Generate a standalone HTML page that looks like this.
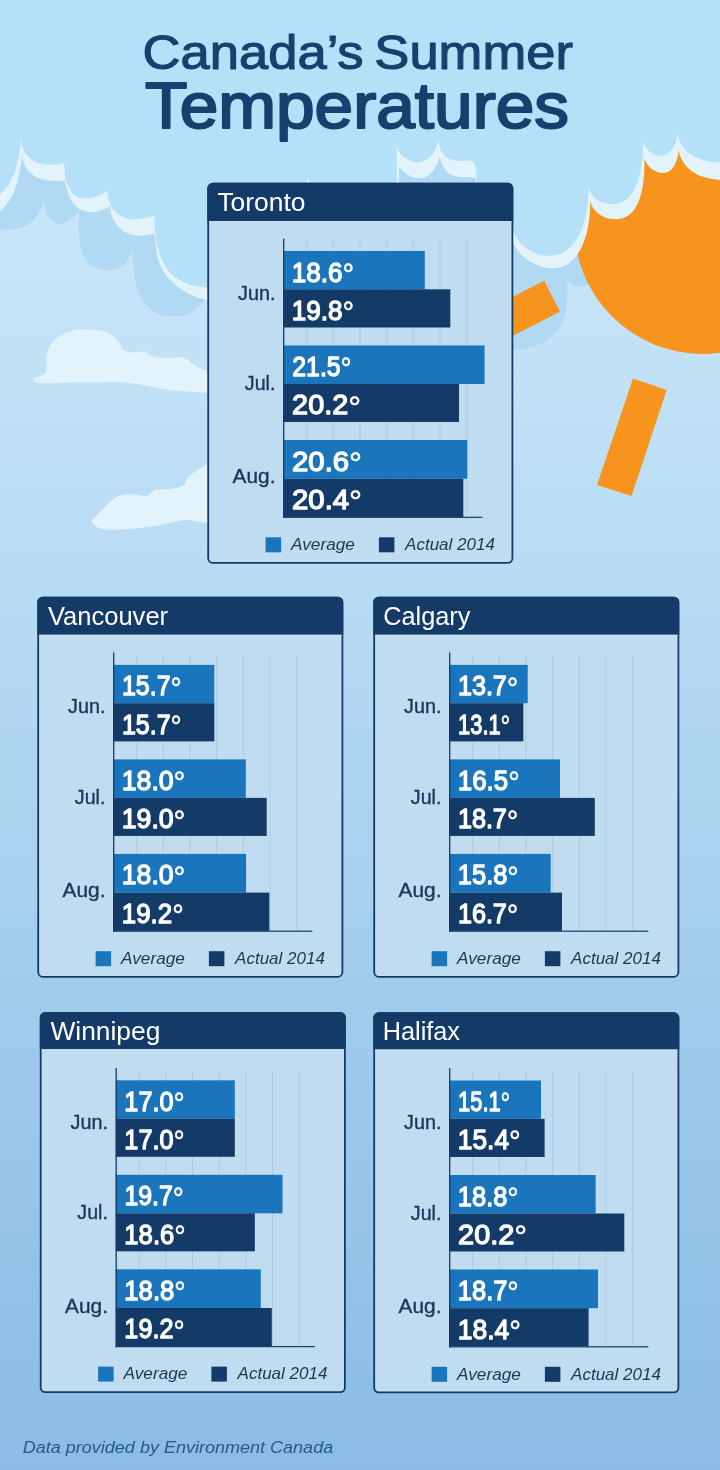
<!DOCTYPE html>
<html lang="en"><head><meta charset="utf-8"><title>Canada’s Summer Temperatures</title>
<style>html,body{margin:0;padding:0;background:#8abce5}svg{display:block}</style></head>
<body>
<svg width="720" height="1470" viewBox="0 0 720 1470">
<defs><linearGradient id="sky" x1="0" y1="0" x2="0" y2="1"><stop offset="0" stop-color="#c9e6f9"/><stop offset="0.17" stop-color="#c7e5f9"/><stop offset="0.38" stop-color="#b9dcf4"/><stop offset="0.7" stop-color="#9fcbec"/><stop offset="1" stop-color="#8abce5"/></linearGradient></defs>
<rect width="720" height="1470" fill="url(#sky)"/>
<path d="M0,0L0,230C2.5,229.8 10.4,229.6 15.0,228.8C19.6,227.9 23.8,227.3 27.5,225.0C31.2,222.7 34.8,218.8 37.5,215.0C40.2,211.2 42.7,204.6 43.8,202.5C44.4,204.6 45.2,211.5 47.5,215.0C49.8,218.5 53.8,222.9 57.5,223.8C61.2,224.6 66.5,222.1 70.0,220.0C73.5,217.9 77.3,212.7 78.8,211.2C79.0,216.5 78.5,234.0 80.0,242.5C81.5,251.0 83.3,257.9 87.5,262.5C91.7,267.1 99.2,269.4 105.0,270.0C110.8,270.6 118.1,269.2 122.5,266.2C126.9,263.2 130.0,254.4 131.5,252.0C131.8,254.4 132.4,260.9 133.3,266.7C134.2,272.5 134.8,280.6 136.7,286.7C138.6,292.8 141.7,298.9 145.0,303.3C148.3,307.7 152.2,310.8 156.7,313.0C161.2,315.2 166.5,316.4 172.0,316.5C177.5,316.6 184.1,316.2 189.6,313.5C195.1,310.8 200.8,304.8 205.0,300.0C209.2,295.2 213.3,287.5 215.0,285.0L500,285L500,351C502.2,350.8 509.4,350.3 513.0,350.0C516.6,349.7 517.5,350.0 521.7,349.2C525.9,348.4 533.0,347.4 538.3,345.0C543.6,342.6 549.1,339.2 553.3,335.0C557.5,330.8 561.0,325.3 563.3,320.0C565.6,314.7 566.3,309.8 567.0,303.3C567.7,296.8 567.4,284.6 567.5,280.8C568.2,281.5 569.9,284.0 571.7,285.0C573.5,286.0 576.1,286.6 578.3,286.7C580.5,286.8 581.4,287.2 585.0,285.8C588.6,284.4 597.5,279.3 600.0,278.0L720,278L720,0Z" fill="#b1d9f3"/>
<path d="M33.6,378.0C35.6,377.0 43.8,375.7 45.9,371.9C48.0,368.1 45.0,360.4 46.5,355.0C48.0,349.6 50.5,343.9 55.0,339.8C59.5,335.7 66.8,332.3 73.4,330.6C80.0,328.9 88.7,329.2 94.8,329.7C100.9,330.2 105.9,331.4 110.0,333.6C114.1,335.8 117.0,340.0 119.3,342.8C121.6,345.6 121.4,348.9 123.9,350.5C126.5,352.1 131.0,352.5 134.6,352.6C138.2,352.8 142.2,350.7 145.3,351.4C148.4,352.1 149.3,355.5 152.9,356.6C156.5,357.7 161.6,358.0 166.7,358.1C171.8,358.2 178.7,356.2 183.5,357.5C188.3,358.8 190.4,362.6 195.7,365.7C200.9,368.8 211.8,371.8 215.0,376.0C218.2,380.2 219.2,388.5 215.0,391.1C210.8,393.7 197.9,392.0 189.6,391.7C181.3,391.4 173.8,390.6 165.1,389.3C156.4,388.0 145.8,385.3 137.6,384.1C129.4,382.9 126.4,382.2 116.2,382.0C106.0,381.8 88.2,382.4 76.5,382.6C64.8,382.8 52.8,383.3 45.9,383.2C39.0,383.1 37.2,382.9 35.2,382.0C33.2,381.1 33.9,378.7 33.6,378.0Z" fill="#e3f3fc"/>
<path d="M91.1,521.7C92.7,519.9 96.7,515.1 100.9,511.0C105.1,506.9 111.1,500.0 116.2,497.2C121.3,494.4 126.4,494.4 131.5,494.2C136.6,493.9 142.7,496.5 146.8,495.7C150.9,494.9 151.9,490.7 156.0,489.6C160.1,488.5 166.7,489.8 171.3,489.0C175.9,488.2 180.2,487.4 183.5,485.0C186.8,482.6 185.8,477.5 191.1,474.3C196.3,471.1 211.0,458.6 215.0,466.0C219.0,473.4 220.2,509.7 215.0,518.7C209.8,527.7 193.8,518.9 183.5,520.2C173.2,521.5 163.1,524.8 152.9,526.3C142.7,527.8 131.0,529.0 122.3,529.4C113.6,529.8 106.1,530.0 100.9,528.7C95.7,527.4 92.7,522.9 91.1,521.7Z" fill="#e3f3fc"/>
<circle cx="702.6" cy="225.6" r="128.3" fill="#f7941e"/>
<polygon points="544.2,280.8 560,311.7 500,342.2 500,303.3" fill="#f7941e"/>
<polygon points="633,378.6 666.7,390 631.5,496 597,485" fill="#f7941e"/>
<path d="M0,0L0,211.2C10,203 19,188 22,155C24,174 38,183 65.3,180.6C68,206 84,221.5 110,206.25C112,228 128,241 154.6,233.5L156.25,248.75C157.5,274 180,297 215,301.5L480,300L480,215L505,228C510,237 512,241 512.8,242.5C520,257 535,268 553,268.3C574,268 590,246 590.3,201C592,211 602,219 615,219.2C633,219.5 645,203 644.5,158.3C646.5,166 654,173 663.3,173C672,173 677,164 678.7,150.8C682,167 696,179 720,179.7L720,0Z" fill="#e3f3fc"/>
<path d="M0,0L0,194C10,186 19,170 21,136.7C21.5,160 38,168 64.3,163.3C65,197.5 80,206.5 107.5,191.25C108.5,214 126,226 154.4,215.6C155,275 178,287 215,288L480,288L480,200L505,215C510,225 512,230 512.8,231.7C520,246 534,256 550,255.8C572,255.5 588,232 588.8,186.7C590,197 600,204 612,204.2C630,204.5 643,186 643.3,140.8C645,149 652,156 660,155.8C670,155.5 676,147 677.5,133.3C680,150 695,162 720,162.5L720,0Z" fill="#b4e0f8"/>
<path d="M396.7,190L396.7,145C397.2,146.4 398.1,150.8 400.0,153.3C401.9,155.8 405.2,158.5 408.3,160.0C411.4,161.5 415.0,162.8 418.3,162.5C421.6,162.2 425.5,160.4 428.3,158.3C431.1,156.2 433.3,152.9 435.0,150.0C436.7,147.1 437.8,142.3 438.3,140.8C438.7,142.3 439.4,147.2 440.8,150.0C442.2,152.8 444.1,155.7 446.7,157.5C449.3,159.3 452.8,160.2 456.7,160.8C460.6,161.4 466.9,160.1 470.0,160.8C473.1,161.5 473.9,162.6 475.0,165.0C476.1,167.4 476.0,170.8 476.3,175.0C476.6,179.2 476.6,187.5 476.7,190.0Z" fill="#e3f3fc"/>
<path d="M399,190L399,166.7C400.6,168.1 404.8,173.1 408.3,175.0C411.8,176.9 416.4,178.4 420.0,178.3C423.6,178.2 427.2,176.4 430.0,174.2C432.8,172.0 435.1,167.9 436.7,165.0C438.3,162.1 439.2,158.1 439.7,156.7C440.3,158.4 441.6,163.8 443.3,166.7C445.0,169.6 447.2,172.5 450.0,174.2C452.8,175.9 456.1,176.4 460.0,177.0C463.9,177.6 470.7,176.7 473.3,177.5C475.9,178.3 475.4,179.6 475.8,181.7C476.2,183.8 476.0,188.6 476.0,190.0Z" fill="#b1d9f3"/>
<path d="M307.7,177.5C308.5,181 309.5,184 311,188L306,188Z" fill="#e3f3fc"/>
<g font-family="'Liberation Sans',Arial,Helvetica,sans-serif">
<text transform="translate(142.59,69.00) scale(1.1088,1)" font-size="47.40" fill="#17406f" stroke="#17406f" stroke-width="1.1" stroke-linejoin="round" word-spacing="-3.5">Canada’s Summer</text>
<text transform="translate(144.97,127.70) scale(1.0806,1)" font-size="64.20" fill="#17406f" stroke="#17406f" stroke-width="2.1" stroke-linejoin="round">Temperatures</text>
<g transform="translate(207.30,182.80)">
<rect x="0.9" y="0.9" width="304.2" height="379.2" rx="4.6" fill="#bfdcf0" stroke="#143b68" stroke-width="1.8"/>
<path d="M0,38.4V5.5A5.5,5.5 0 0 1 5.5,0H300.5A5.5,5.5 0 0 1 306.0,5.5V38.4Z" fill="#143b68"/>
<rect x="1.8" y="38.4" width="302.4" height="1" fill="#d2e6f5"/>
<text transform="translate(10.09,28.10) scale(1.0563,1)" font-size="25.00" fill="#fff">Toronto</text>
<rect x="98.85" y="58" width="1" height="276.5" fill="#afcbe0"/>
<rect x="125.52" y="58" width="1" height="276.5" fill="#afcbe0"/>
<rect x="152.19" y="58" width="1" height="276.5" fill="#afcbe0"/>
<rect x="178.86" y="58" width="1" height="276.5" fill="#afcbe0"/>
<rect x="205.53" y="58" width="1" height="276.5" fill="#afcbe0"/>
<rect x="232.20" y="58" width="1" height="276.5" fill="#afcbe0"/>
<rect x="258.87" y="58" width="1" height="276.5" fill="#afcbe0"/>
<rect x="76.0" y="68.20" width="141.50" height="38.30" fill="#1b75bc"/>
<rect x="76.0" y="106.50" width="167.00" height="38.20" fill="#143b68"/>
<text transform="translate(84.52,98.70) scale(0.9660,1)" font-size="27.00" fill="#fff" stroke="#fff" stroke-width="1.3" stroke-linejoin="round">18.6<tspan dy="2.2" font-size="30" stroke-width="0.5">°</tspan></text>
<text transform="translate(84.52,136.90) scale(0.9660,1)" font-size="27.00" fill="#fff" stroke="#fff" stroke-width="1.3" stroke-linejoin="round">19.8<tspan dy="2.2" font-size="30" stroke-width="0.5">°</tspan></text>
<text transform="translate(68.09,116.70) scale(1.0198,1)" font-size="19.40" fill="#1b3659" text-anchor="end" stroke="#1b3659" stroke-width="0.35">Jun.</text>
<rect x="76.0" y="162.70" width="201.25" height="38.50" fill="#1b75bc"/>
<rect x="76.0" y="201.20" width="175.75" height="38.00" fill="#143b68"/>
<text transform="translate(84.99,193.20) scale(0.9197,1)" font-size="27.00" fill="#fff" stroke="#fff" stroke-width="1.3" stroke-linejoin="round">21.5<tspan dy="2.2" font-size="30" stroke-width="0.5">°</tspan></text>
<text transform="translate(84.80,231.60) scale(1.0683,1)" font-size="27.00" fill="#fff" stroke="#fff" stroke-width="1.3" stroke-linejoin="round">20.2<tspan dy="2.2" font-size="30" stroke-width="0.5">°</tspan></text>
<text transform="translate(68.08,207.20) scale(1.0130,1)" font-size="19.40" fill="#1b3659" text-anchor="end" stroke="#1b3659" stroke-width="0.35">Jul.</text>
<rect x="76.0" y="257.20" width="184.00" height="38.70" fill="#1b75bc"/>
<rect x="76.0" y="295.90" width="180.00" height="38.30" fill="#143b68"/>
<text transform="translate(84.78,287.70) scale(1.0848,1)" font-size="27.00" fill="#fff" stroke="#fff" stroke-width="1.3" stroke-linejoin="round">20.6<tspan dy="2.2" font-size="30" stroke-width="0.5">°</tspan></text>
<text transform="translate(84.78,326.30) scale(1.0848,1)" font-size="27.00" fill="#fff" stroke="#fff" stroke-width="1.3" stroke-linejoin="round">20.4<tspan dy="2.2" font-size="30" stroke-width="0.5">°</tspan></text>
<text transform="translate(68.18,300.50) scale(1.0745,1)" font-size="19.40" fill="#1b3659" text-anchor="end" stroke="#1b3659" stroke-width="0.35">Aug.</text>
<rect x="75.75" y="55.8" width="1.3" height="279.3" fill="#143b68"/>
<rect x="75.75" y="333.9" width="199.3" height="1.2" fill="#143b68"/>
<rect x="58.3" y="354.5" width="15.5" height="15" fill="#1b75bc"/>
<text transform="translate(83.78,367.20) scale(1.0133,1)" font-size="17.00" font-style="italic" fill="#1b3659">Average</text>
<rect x="171.6" y="354.5" width="15.5" height="15" fill="#143b68"/>
<text transform="translate(197.76,367.20) scale(1.0008,1)" font-size="17.00" font-style="italic" fill="#1b3659">Actual 2014</text>
</g>
<g transform="translate(37.30,596.70)">
<rect x="0.9" y="0.9" width="304.2" height="379.2" rx="4.6" fill="#bfdcf0" stroke="#143b68" stroke-width="1.8"/>
<path d="M0,38.1V5.5A5.5,5.5 0 0 1 5.5,0H300.5A5.5,5.5 0 0 1 306.0,5.5V38.1Z" fill="#143b68"/>
<rect x="1.8" y="38.1" width="302.4" height="1" fill="#d2e6f5"/>
<text transform="translate(10.70,28.10) scale(1.0209,1)" font-size="25.00" fill="#fff">Vancouver</text>
<rect x="98.85" y="58" width="1" height="276.5" fill="#afcbe0"/>
<rect x="125.52" y="58" width="1" height="276.5" fill="#afcbe0"/>
<rect x="152.19" y="58" width="1" height="276.5" fill="#afcbe0"/>
<rect x="178.86" y="58" width="1" height="276.5" fill="#afcbe0"/>
<rect x="205.53" y="58" width="1" height="276.5" fill="#afcbe0"/>
<rect x="232.20" y="58" width="1" height="276.5" fill="#afcbe0"/>
<rect x="258.87" y="58" width="1" height="276.5" fill="#afcbe0"/>
<rect x="76.0" y="68.20" width="101.00" height="38.30" fill="#1b75bc"/>
<rect x="76.0" y="106.50" width="101.00" height="38.20" fill="#143b68"/>
<text transform="translate(84.59,98.70) scale(0.9261,1)" font-size="27.00" fill="#fff" stroke="#fff" stroke-width="1.3" stroke-linejoin="round">15.7<tspan dy="2.2" font-size="30" stroke-width="0.5">°</tspan></text>
<text transform="translate(84.59,136.90) scale(0.9261,1)" font-size="27.00" fill="#fff" stroke="#fff" stroke-width="1.3" stroke-linejoin="round">15.7<tspan dy="2.2" font-size="30" stroke-width="0.5">°</tspan></text>
<text transform="translate(68.09,116.70) scale(1.0198,1)" font-size="19.40" fill="#1b3659" text-anchor="end" stroke="#1b3659" stroke-width="0.35">Jun.</text>
<rect x="76.0" y="162.70" width="132.50" height="38.50" fill="#1b75bc"/>
<rect x="76.0" y="201.20" width="153.40" height="38.00" fill="#143b68"/>
<text transform="translate(84.49,193.20) scale(0.9860,1)" font-size="27.00" fill="#fff" stroke="#fff" stroke-width="1.3" stroke-linejoin="round">18.0<tspan dy="2.2" font-size="30" stroke-width="0.5">°</tspan></text>
<text transform="translate(84.49,231.60) scale(0.9860,1)" font-size="27.00" fill="#fff" stroke="#fff" stroke-width="1.3" stroke-linejoin="round">19.0<tspan dy="2.2" font-size="30" stroke-width="0.5">°</tspan></text>
<text transform="translate(68.08,207.20) scale(1.0130,1)" font-size="19.40" fill="#1b3659" text-anchor="end" stroke="#1b3659" stroke-width="0.35">Jul.</text>
<rect x="76.0" y="257.20" width="132.75" height="38.70" fill="#1b75bc"/>
<rect x="76.0" y="295.90" width="156.00" height="38.30" fill="#143b68"/>
<text transform="translate(84.49,287.70) scale(0.9860,1)" font-size="27.00" fill="#fff" stroke="#fff" stroke-width="1.3" stroke-linejoin="round">18.0<tspan dy="2.2" font-size="30" stroke-width="0.5">°</tspan></text>
<text transform="translate(84.53,326.30) scale(0.9594,1)" font-size="27.00" fill="#fff" stroke="#fff" stroke-width="1.3" stroke-linejoin="round">19.2<tspan dy="2.2" font-size="30" stroke-width="0.5">°</tspan></text>
<text transform="translate(68.18,300.50) scale(1.0745,1)" font-size="19.40" fill="#1b3659" text-anchor="end" stroke="#1b3659" stroke-width="0.35">Aug.</text>
<rect x="75.75" y="55.8" width="1.3" height="279.3" fill="#143b68"/>
<rect x="75.75" y="333.9" width="199.3" height="1.2" fill="#143b68"/>
<rect x="58.3" y="354.5" width="15.5" height="15" fill="#1b75bc"/>
<text transform="translate(83.78,367.20) scale(1.0133,1)" font-size="17.00" font-style="italic" fill="#1b3659">Average</text>
<rect x="171.6" y="354.5" width="15.5" height="15" fill="#143b68"/>
<text transform="translate(197.76,367.20) scale(1.0008,1)" font-size="17.00" font-style="italic" fill="#1b3659">Actual 2014</text>
</g>
<g transform="translate(373.30,596.70)">
<rect x="0.9" y="0.9" width="304.2" height="379.2" rx="4.6" fill="#bfdcf0" stroke="#143b68" stroke-width="1.8"/>
<path d="M0,38.1V5.5A5.5,5.5 0 0 1 5.5,0H300.5A5.5,5.5 0 0 1 306.0,5.5V38.1Z" fill="#143b68"/>
<rect x="1.8" y="38.1" width="302.4" height="1" fill="#d2e6f5"/>
<text transform="translate(9.91,28.10) scale(1.0121,1)" font-size="25.00" fill="#fff">Calgary</text>
<rect x="98.85" y="58" width="1" height="276.5" fill="#afcbe0"/>
<rect x="125.52" y="58" width="1" height="276.5" fill="#afcbe0"/>
<rect x="152.19" y="58" width="1" height="276.5" fill="#afcbe0"/>
<rect x="178.86" y="58" width="1" height="276.5" fill="#afcbe0"/>
<rect x="205.53" y="58" width="1" height="276.5" fill="#afcbe0"/>
<rect x="232.20" y="58" width="1" height="276.5" fill="#afcbe0"/>
<rect x="258.87" y="58" width="1" height="276.5" fill="#afcbe0"/>
<rect x="76.0" y="68.20" width="78.40" height="38.30" fill="#1b75bc"/>
<rect x="76.0" y="106.50" width="74.00" height="38.20" fill="#143b68"/>
<text transform="translate(84.58,98.70) scale(0.9328,1)" font-size="27.00" fill="#fff" stroke="#fff" stroke-width="1.3" stroke-linejoin="round">13.7<tspan dy="2.2" font-size="30" stroke-width="0.5">°</tspan></text>
<text transform="translate(84.78,136.90) scale(0.8097,1)" font-size="27.00" fill="#fff" stroke="#fff" stroke-width="1.3" stroke-linejoin="round">13.1<tspan dy="2.2" font-size="30" stroke-width="0.5">°</tspan></text>
<text transform="translate(68.09,116.70) scale(1.0198,1)" font-size="19.40" fill="#1b3659" text-anchor="end" stroke="#1b3659" stroke-width="0.35">Jun.</text>
<rect x="76.0" y="162.70" width="110.70" height="38.50" fill="#1b75bc"/>
<rect x="76.0" y="201.20" width="145.50" height="38.00" fill="#143b68"/>
<text transform="translate(84.53,193.20) scale(0.9594,1)" font-size="27.00" fill="#fff" stroke="#fff" stroke-width="1.3" stroke-linejoin="round">16.5<tspan dy="2.2" font-size="30" stroke-width="0.5">°</tspan></text>
<text transform="translate(84.58,231.60) scale(0.9328,1)" font-size="27.00" fill="#fff" stroke="#fff" stroke-width="1.3" stroke-linejoin="round">18.7<tspan dy="2.2" font-size="30" stroke-width="0.5">°</tspan></text>
<text transform="translate(68.08,207.20) scale(1.0130,1)" font-size="19.40" fill="#1b3659" text-anchor="end" stroke="#1b3659" stroke-width="0.35">Jul.</text>
<rect x="76.0" y="257.20" width="101.40" height="38.70" fill="#1b75bc"/>
<rect x="76.0" y="295.90" width="112.70" height="38.30" fill="#143b68"/>
<text transform="translate(84.56,287.70) scale(0.9427,1)" font-size="27.00" fill="#fff" stroke="#fff" stroke-width="1.3" stroke-linejoin="round">15.8<tspan dy="2.2" font-size="30" stroke-width="0.5">°</tspan></text>
<text transform="translate(84.58,326.30) scale(0.9328,1)" font-size="27.00" fill="#fff" stroke="#fff" stroke-width="1.3" stroke-linejoin="round">16.7<tspan dy="2.2" font-size="30" stroke-width="0.5">°</tspan></text>
<text transform="translate(68.18,300.50) scale(1.0745,1)" font-size="19.40" fill="#1b3659" text-anchor="end" stroke="#1b3659" stroke-width="0.35">Aug.</text>
<rect x="75.75" y="55.8" width="1.3" height="279.3" fill="#143b68"/>
<rect x="75.75" y="333.9" width="199.3" height="1.2" fill="#143b68"/>
<rect x="58.3" y="354.5" width="15.5" height="15" fill="#1b75bc"/>
<text transform="translate(83.78,367.20) scale(1.0133,1)" font-size="17.00" font-style="italic" fill="#1b3659">Average</text>
<rect x="171.6" y="354.5" width="15.5" height="15" fill="#143b68"/>
<text transform="translate(197.76,367.20) scale(1.0008,1)" font-size="17.00" font-style="italic" fill="#1b3659">Actual 2014</text>
</g>
<g transform="translate(39.80,1012.10)">
<rect x="0.9" y="0.9" width="304.2" height="379.2" rx="4.6" fill="#bfdcf0" stroke="#143b68" stroke-width="1.8"/>
<path d="M0,37.2V5.5A5.5,5.5 0 0 1 5.5,0H300.5A5.5,5.5 0 0 1 306.0,5.5V37.2Z" fill="#143b68"/>
<rect x="1.8" y="37.2" width="302.4" height="1" fill="#d2e6f5"/>
<text transform="translate(10.60,28.10) scale(1.0552,1)" font-size="25.00" fill="#fff">Winnipeg</text>
<rect x="98.85" y="58" width="1" height="276.5" fill="#afcbe0"/>
<rect x="125.52" y="58" width="1" height="276.5" fill="#afcbe0"/>
<rect x="152.19" y="58" width="1" height="276.5" fill="#afcbe0"/>
<rect x="178.86" y="58" width="1" height="276.5" fill="#afcbe0"/>
<rect x="205.53" y="58" width="1" height="276.5" fill="#afcbe0"/>
<rect x="232.20" y="58" width="1" height="276.5" fill="#afcbe0"/>
<rect x="258.87" y="58" width="1" height="276.5" fill="#afcbe0"/>
<rect x="76.0" y="68.20" width="119.00" height="38.30" fill="#1b75bc"/>
<rect x="76.0" y="106.50" width="119.00" height="38.20" fill="#143b68"/>
<text transform="translate(84.57,98.70) scale(0.9344,1)" font-size="27.00" fill="#fff" stroke="#fff" stroke-width="1.3" stroke-linejoin="round">17.0<tspan dy="2.2" font-size="30" stroke-width="0.5">°</tspan></text>
<text transform="translate(84.57,136.90) scale(0.9344,1)" font-size="27.00" fill="#fff" stroke="#fff" stroke-width="1.3" stroke-linejoin="round">17.0<tspan dy="2.2" font-size="30" stroke-width="0.5">°</tspan></text>
<text transform="translate(68.09,116.70) scale(1.0198,1)" font-size="19.40" fill="#1b3659" text-anchor="end" stroke="#1b3659" stroke-width="0.35">Jun.</text>
<rect x="76.0" y="162.70" width="166.70" height="38.50" fill="#1b75bc"/>
<rect x="76.0" y="201.20" width="139.00" height="38.00" fill="#143b68"/>
<text transform="translate(84.60,193.20) scale(0.9211,1)" font-size="27.00" fill="#fff" stroke="#fff" stroke-width="1.3" stroke-linejoin="round">19.7<tspan dy="2.2" font-size="30" stroke-width="0.5">°</tspan></text>
<text transform="translate(84.55,231.60) scale(0.9511,1)" font-size="27.00" fill="#fff" stroke="#fff" stroke-width="1.3" stroke-linejoin="round">18.6<tspan dy="2.2" font-size="30" stroke-width="0.5">°</tspan></text>
<text transform="translate(68.08,207.20) scale(1.0130,1)" font-size="19.40" fill="#1b3659" text-anchor="end" stroke="#1b3659" stroke-width="0.35">Jul.</text>
<rect x="76.0" y="257.20" width="145.00" height="38.70" fill="#1b75bc"/>
<rect x="76.0" y="295.90" width="156.00" height="38.30" fill="#143b68"/>
<text transform="translate(84.55,287.70) scale(0.9511,1)" font-size="27.00" fill="#fff" stroke="#fff" stroke-width="1.3" stroke-linejoin="round">18.8<tspan dy="2.2" font-size="30" stroke-width="0.5">°</tspan></text>
<text transform="translate(84.57,326.30) scale(0.9344,1)" font-size="27.00" fill="#fff" stroke="#fff" stroke-width="1.3" stroke-linejoin="round">19.2<tspan dy="2.2" font-size="30" stroke-width="0.5">°</tspan></text>
<text transform="translate(68.18,300.50) scale(1.0745,1)" font-size="19.40" fill="#1b3659" text-anchor="end" stroke="#1b3659" stroke-width="0.35">Aug.</text>
<rect x="75.75" y="55.8" width="1.3" height="279.3" fill="#143b68"/>
<rect x="75.75" y="333.9" width="199.3" height="1.2" fill="#143b68"/>
<rect x="58.3" y="354.5" width="15.5" height="15" fill="#1b75bc"/>
<text transform="translate(83.78,367.20) scale(1.0133,1)" font-size="17.00" font-style="italic" fill="#1b3659">Average</text>
<rect x="171.6" y="354.5" width="15.5" height="15" fill="#143b68"/>
<text transform="translate(197.76,367.20) scale(1.0008,1)" font-size="17.00" font-style="italic" fill="#1b3659">Actual 2014</text>
</g>
<g transform="translate(373.30,1012.30)">
<rect x="0.9" y="0.9" width="304.2" height="379.2" rx="4.6" fill="#bfdcf0" stroke="#143b68" stroke-width="1.8"/>
<path d="M0,37.3V5.5A5.5,5.5 0 0 1 5.5,0H300.5A5.5,5.5 0 0 1 306.0,5.5V37.3Z" fill="#143b68"/>
<rect x="1.8" y="37.3" width="302.4" height="1" fill="#d2e6f5"/>
<text transform="translate(9.42,28.10) scale(1.0112,1)" font-size="25.00" fill="#fff">Halifax</text>
<rect x="98.85" y="58" width="1" height="276.5" fill="#afcbe0"/>
<rect x="125.52" y="58" width="1" height="276.5" fill="#afcbe0"/>
<rect x="152.19" y="58" width="1" height="276.5" fill="#afcbe0"/>
<rect x="178.86" y="58" width="1" height="276.5" fill="#afcbe0"/>
<rect x="205.53" y="58" width="1" height="276.5" fill="#afcbe0"/>
<rect x="232.20" y="58" width="1" height="276.5" fill="#afcbe0"/>
<rect x="258.87" y="58" width="1" height="276.5" fill="#afcbe0"/>
<rect x="76.0" y="68.20" width="91.70" height="38.30" fill="#1b75bc"/>
<rect x="76.0" y="106.50" width="95.30" height="38.20" fill="#143b68"/>
<text transform="translate(84.78,98.70) scale(0.8097,1)" font-size="27.00" fill="#fff" stroke="#fff" stroke-width="1.3" stroke-linejoin="round">15.1<tspan dy="2.2" font-size="30" stroke-width="0.5">°</tspan></text>
<text transform="translate(84.50,136.90) scale(0.9760,1)" font-size="27.00" fill="#fff" stroke="#fff" stroke-width="1.3" stroke-linejoin="round">15.4<tspan dy="2.2" font-size="30" stroke-width="0.5">°</tspan></text>
<text transform="translate(68.09,116.70) scale(1.0198,1)" font-size="19.40" fill="#1b3659" text-anchor="end" stroke="#1b3659" stroke-width="0.35">Jun.</text>
<rect x="76.0" y="162.70" width="146.30" height="38.50" fill="#1b75bc"/>
<rect x="76.0" y="201.20" width="175.00" height="38.00" fill="#143b68"/>
<text transform="translate(84.56,193.20) scale(0.9427,1)" font-size="27.00" fill="#fff" stroke="#fff" stroke-width="1.3" stroke-linejoin="round">18.8<tspan dy="2.2" font-size="30" stroke-width="0.5">°</tspan></text>
<text transform="translate(84.80,231.60) scale(1.0683,1)" font-size="27.00" fill="#fff" stroke="#fff" stroke-width="1.3" stroke-linejoin="round">20.2<tspan dy="2.2" font-size="30" stroke-width="0.5">°</tspan></text>
<text transform="translate(68.08,207.20) scale(1.0130,1)" font-size="19.40" fill="#1b3659" text-anchor="end" stroke="#1b3659" stroke-width="0.35">Jul.</text>
<rect x="76.0" y="257.20" width="148.70" height="38.70" fill="#1b75bc"/>
<rect x="76.0" y="295.90" width="139.30" height="38.30" fill="#143b68"/>
<text transform="translate(84.56,287.70) scale(0.9427,1)" font-size="27.00" fill="#fff" stroke="#fff" stroke-width="1.3" stroke-linejoin="round">18.7<tspan dy="2.2" font-size="30" stroke-width="0.5">°</tspan></text>
<text transform="translate(84.49,326.30) scale(0.9810,1)" font-size="27.00" fill="#fff" stroke="#fff" stroke-width="1.3" stroke-linejoin="round">18.4<tspan dy="2.2" font-size="30" stroke-width="0.5">°</tspan></text>
<text transform="translate(68.18,300.50) scale(1.0745,1)" font-size="19.40" fill="#1b3659" text-anchor="end" stroke="#1b3659" stroke-width="0.35">Aug.</text>
<rect x="75.75" y="55.8" width="1.3" height="279.3" fill="#143b68"/>
<rect x="75.75" y="333.9" width="199.3" height="1.2" fill="#143b68"/>
<rect x="58.3" y="354.5" width="15.5" height="15" fill="#1b75bc"/>
<text transform="translate(83.78,367.20) scale(1.0133,1)" font-size="17.00" font-style="italic" fill="#1b3659">Average</text>
<rect x="171.6" y="354.5" width="15.5" height="15" fill="#143b68"/>
<text transform="translate(197.76,367.20) scale(1.0008,1)" font-size="17.00" font-style="italic" fill="#1b3659">Actual 2014</text>
</g>
<text transform="translate(22.72,1452.50) scale(1.0363,1)" font-size="17.40" font-style="italic" fill="#25598a">Data provided by Environment Canada</text>
</g>
</svg>
</body></html>
